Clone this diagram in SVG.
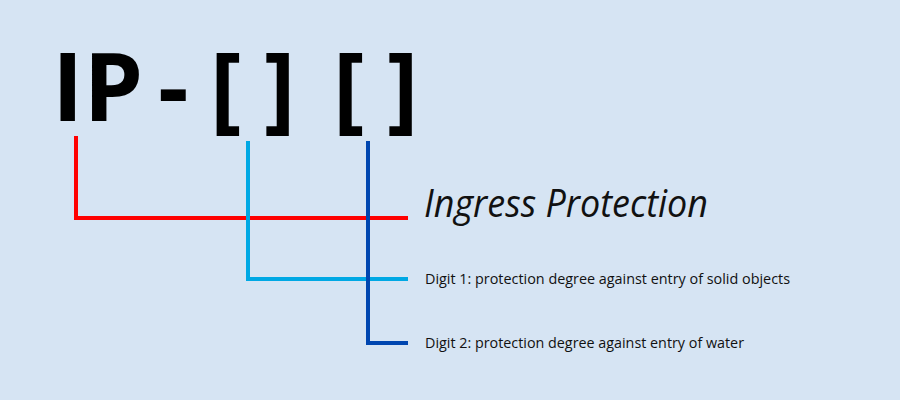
<svg xmlns="http://www.w3.org/2000/svg" width="900" height="400" viewBox="0 0 900 400">
<style>
.big{font-family:"Open Sans","Noto Sans",sans-serif;font-weight:bold;font-size:95px;fill:#000}
.title{font-family:"Open Sans","Noto Sans",sans-serif;font-style:italic;font-size:39px;fill:#111}
.lbl{font-family:"Open Sans","Noto Sans",sans-serif;font-size:14.5px;fill:#111}
.ln{fill:none;stroke-width:4;stroke-linecap:butt;stroke-linejoin:miter}
</style>
<rect width="900" height="400" fill="#d6e4f3"/>
<g id="code">
<text class="big" x="52" y="121">IP</text>
<text class="big" x="158" y="121">-</text>
<text class="big" x="210" y="121">[</text>
<text class="big" x="264" y="121">]</text>
<text class="big" x="333" y="121">[</text>
<text class="big" x="387" y="121">]</text>
</g>
<g id="connectors">
<polyline class="ln" stroke="#ff0000" points="76,136 76,218 408,218"/>
<polyline class="ln" stroke="#00a8e4" points="248,141 248,279 408,279"/>
<polyline class="ln" stroke="#0046b0" points="368,141 368,343 408,343"/>
</g>
<g id="label-ip">
<text class="title" x="424" y="217" textLength="284" lengthAdjust="spacingAndGlyphs">Ingress Protection</text>
</g>
<g id="label-digit1">
<text class="lbl" x="425" y="284" textLength="365" lengthAdjust="spacingAndGlyphs">Digit 1: protection degree against entry of solid objects</text>
</g>
<g id="label-digit2">
<text class="lbl" x="425" y="348" textLength="319" lengthAdjust="spacingAndGlyphs">Digit 2: protection degree against entry of water</text>
</g>
</svg>
